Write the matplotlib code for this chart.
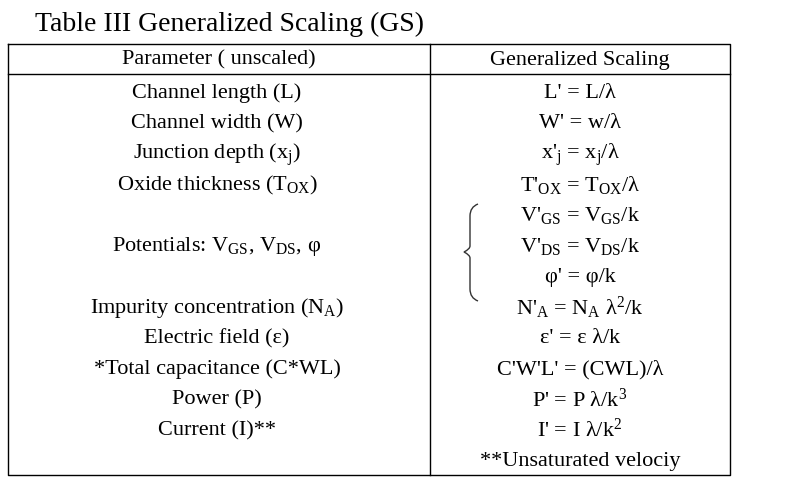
import matplotlib
matplotlib.use("Agg")
import matplotlib.pyplot as plt
from matplotlib.path import Path
from matplotlib.patches import PathPatch

plt.rcParams["font.family"] = ["Liberation Serif", "DejaVu Serif"]
plt.rcParams["mathtext.fontset"] = "custom"
plt.rcParams["mathtext.rm"] = "Liberation Serif"
plt.rcParams["mathtext.it"] = "Liberation Serif"
plt.rcParams["mathtext.default"] = "rm"

title = "Table III Generalized Scaling (GS)"
headers = ["Parameter ( unscaled)", "Generalized Scaling"]

# (row index, text) ; row 0 = first data row
params = [
    (0, "Channel length (L)"),
    (1, "Channel width (W)"),
    (2, r"Junction depth (x$_{\rm j}$)"),
    (3, r"Oxide thickness (T$_{\rm OX}$)"),
    (5, r"Potentials: V$_{\rm GS}$, V$_{\rm DS}$, φ"),
    (7, r"Impurity concentration (N$_{\rm A}$)"),
    (8, "Electric field (ε)"),
    (9, "*Total capacitance (C*WL)"),
    (10, "Power (P)"),
    (11, "Current (I)**"),
]
scaling = [
    "L' = L/λ",
    "W' = w/λ",
    r"x'$_{\rm j}$ = x$_{\rm j}$/λ",
    r"T'$_{\rm OX}$ = T$_{\rm OX}$/λ",
    r"V'$_{\rm GS}$ = V$_{\rm GS}$/k",
    r"V'$_{\rm DS}$ = V$_{\rm DS}$/k",
    "φ' = φ/k",
    r"N'$_{\rm A}$ = N$_{\rm A}$ λ$^2$/k",
    "ε' = ε λ/k",
    "C'W'L' = (CWL)/λ",
    r"P' = P λ/k$^3$",
    r"I' = I λ/k$^2$",
    "**Unsaturated velociy",
]

fig = plt.figure(figsize=(7.94, 5.02), dpi=100)
ax = fig.add_axes([0, 0, 1, 1])
ax.set_xlim(0, 794)
ax.set_ylim(502, 0)
ax.axis("off")

left, right, mid = 8, 730, 430
top, head_bottom, bottom = 45, 75, 476
y0, dy = 93, 30.7
fs = 16

ax.text(35, 24, title, fontsize=20, va="center", ha="left")
ax.plot([left, right, right, left, left], [top, top, bottom, bottom, top], color="black", lw=1)
ax.plot([left, right], [head_bottom, head_bottom], color="black", lw=1)
ax.plot([mid, mid], [top, bottom], color="black", lw=1)

ax.text((left + mid) / 2, 60, headers[0], fontsize=fs, ha="center", va="center")
ax.text((mid + right) / 2, 60, headers[1], fontsize=fs, ha="center", va="center")

for i, t in params:
    ax.text((left + mid) / 2 - 2, y0 + i * dy, t, fontsize=fs, ha="center", va="center")
for i, t in enumerate(scaling):
    ax.text((mid + right) / 2, y0 + i * dy, t, fontsize=fs, ha="center", va="center")

# thin brace grouping the potentials rows
bx, by1, bym, by2 = 470, 205, 253, 302
verts = [(bx + 8, by1), (bx, by1 + 3), (bx, by1 + 12),
         (bx, bym - 6), (bx, bym - 3), (bx - 6, bym),
         (bx, bym + 3), (bx, bym + 6),
         (bx, by2 - 12), (bx, by2 - 3), (bx + 8, by2)]
codes = [Path.MOVETO, Path.CURVE3, Path.CURVE3,
         Path.LINETO, Path.CURVE3, Path.CURVE3,
         Path.CURVE3, Path.CURVE3,
         Path.LINETO, Path.CURVE3, Path.CURVE3]
ax.add_patch(PathPatch(Path(verts, codes), fill=False, lw=1, color="#333333"))

fig.savefig("out.png", dpi=100)
